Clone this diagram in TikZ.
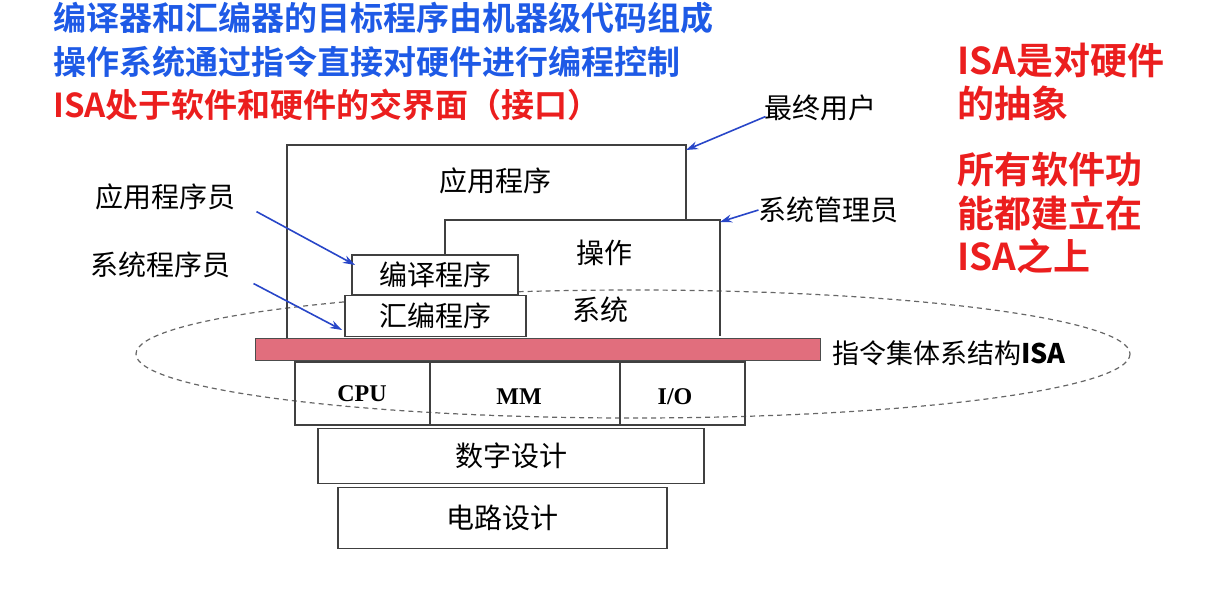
\documentclass[tikz,border=0pt]{standalone}
\usepackage{fontspec}
\setmainfont{Liberation Serif}
\newfontfamily\cjk{Noto Sans CJK SC}
\newfontfamily\cjkb{Noto Sans CJK SC Bold}
\usetikzlibrary{arrows.meta}
\definecolor{tblue}{RGB}{30,90,230}
\definecolor{tred}{RGB}{235,30,30}
\definecolor{isapink}{RGB}{225,110,125}
\definecolor{arrblue}{RGB}{40,70,200}
\tikzset{
 box/.style={draw=black!75,line width=1.2pt},
 lbl/.style={font=\cjk\fontsize{28}{30}\selectfont},
 head/.style={font=\cjkb\fontsize{33}{36}\selectfont,anchor=west,inner sep=0pt},
 rhead/.style={font=\cjkb\fontsize{37}{40}\selectfont,anchor=west,inner sep=0pt},
 ptr/.style={draw=arrblue,line width=1.6pt,-{Stealth[length=12pt,width=8pt]}},
}
\begin{document}
\begin{tikzpicture}[x=1pt,y=-1pt]
\useasboundingbox (0,0) rectangle (1222,589);
% headings
\node[head,text=tblue] (h1) at (53,18) {编译器和汇编器的目标程序由机器级代码组成};
\node[head,text=tblue] (h2) at (53,62) {操作系统通过指令直接对硬件进行编程控制};
\node[head,text=tred] (h3) at (53,105) {ISA处于软件和硬件的交界面（接口）};
\node[rhead,text=tred] (r1) at (957,60) {ISA是对硬件};
\node[rhead,text=tred] (r2) at (957,103) {的抽象};
\node[rhead,text=tred] (r3) at (957,170) {所有软件功};
\node[rhead,text=tred] (r4) at (957,213) {能都建立在};
\node[rhead,text=tred] (r5) at (957,256) {ISA之上};
% ellipse
\draw[line width=1.2pt,black!60,dash pattern=on 5pt off 4pt] (633,354) ellipse [x radius=497,y radius=64];
% app outline
\draw[box] (287,338) -- (287,145) -- (686,145) -- (686,220);
% OS box
\draw[box] (445,258) -- (445,220) -- (720,220) -- (720,336);
\node[lbl] (app) at (495,181) {应用程序};
\node[lbl] (os1) at (604,253) {操作};
\node[lbl] (os2) at (600,310) {系统};
% compiler boxes
\node[box,fill=white,minimum width=166pt,minimum height=40pt,inner sep=0pt,lbl] (comp) at (435,275) {编译程序};
\node[box,fill=white,minimum width=181pt,minimum height=41pt,inner sep=0pt,lbl] (asm) at (435.5,316) {汇编程序};
% ISA bar
\node[draw=black!70,fill=isapink,minimum width=565pt,minimum height=22pt,inner sep=0pt] (isa) at (537.5,349) {};
\node[lbl,anchor=west,font=\cjk\fontsize{27}{30}\selectfont,inner sep=0pt] (isal) at (832,353) {指令集体系结构\textbf{ISA}};
% hardware
\draw[box] (295,362) rectangle (745,425);
\draw[box] (430,362) -- (430,425) (620,362) -- (620,425);
\node[font=\bfseries\fontsize{24}{26}\selectfont] (cpu) at (362,394) {CPU};
\node[font=\bfseries\fontsize{24}{26}\selectfont] (mm) at (519,397) {MM};
\node[font=\bfseries\fontsize{24}{26}\selectfont] (io) at (675,397) {I/O};
\node[box,minimum width=386pt,minimum height=55pt,inner sep=0pt,lbl] (dig) at (511,456) {数字设计};
\node[box,minimum width=329pt,minimum height=61pt,inner sep=0pt,lbl] (cir) at (502.5,518) {电路设计};
% people labels
\node[lbl] (user) at (820,108) {最终用户};
\node[lbl] (admin) at (828,210) {系统管理员};
\node[lbl] (appp) at (165,197) {应用程序员};
\node[lbl] (sysp) at (160,265) {系统程序员};
\coordinate (uA) at (686,150);
\coordinate (aA) at (720,222);
\coordinate (cA) at (355,265);
\coordinate (sA) at (342,330);
\draw[ptr] (user.south west) ++(5,-8) -- (uA);
\draw[ptr] (admin.west) ++(4,0) -- (aA);
\draw[ptr] (appp.south east) ++(18,-2) -- (cA);
\draw[ptr] (sysp.south east) ++(20,2) -- (sA);
\end{tikzpicture}
\end{document}
